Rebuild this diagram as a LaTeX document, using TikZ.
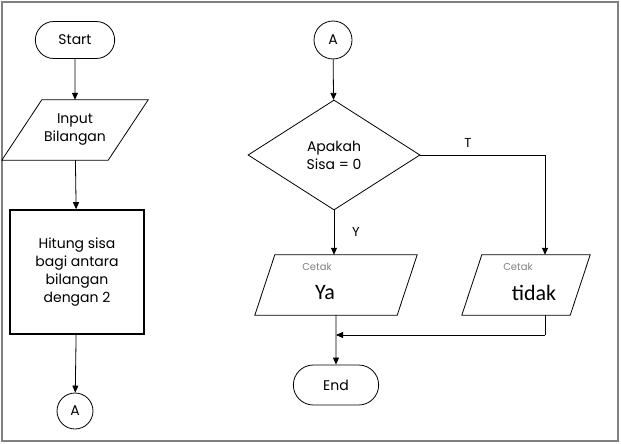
\documentclass[tikz,border=0pt]{standalone}
\usepackage{fontspec}
\setmainfont{Poppins}
\newfontfamily\calfnt{Carlito}
\usetikzlibrary{shapes.geometric,shapes.misc,arrows.meta}
\begin{document}
\begin{tikzpicture}[x=1pt,y=-1pt,
  base/.style={draw,line width=0.8pt,align=center,font=\fontsize{14}{18}\selectfont},
  term/.style={base,rounded rectangle,minimum width=86pt,minimum height=37pt},
  iobox/.style={align=center,font=\fontsize{14}{18}\selectfont,inner sep=0pt,minimum height=60pt},
  conn/.style={base,circle,minimum size=38pt,inner sep=0pt},
  arr/.style={draw,line width=0.8pt,-{Triangle[length=7pt,width=6pt]}},
  ln/.style={draw,line width=0.8pt}]
\useasboundingbox (0,0) rectangle (621,444);
\draw[gray,line width=1.5pt] (2,2) rectangle (618,441);
\node[term] (start) at (75,40) {Start};
\node[iobox,minimum width=86pt] (in) at (75,130) {Input\\Bilangan};
\draw[line width=0.8pt] ([xshift=10pt]in.north west) -- ([xshift=30pt]in.north east) -- ([xshift=-10pt]in.south east) -- ([xshift=-30pt]in.south west) -- cycle;
\node[base,line width=1.6pt,minimum width=134pt,minimum height=124pt] (hit) at (77,272) {Hitung sisa\\bagi antara\\bilangan\\dengan 2};
\node[conn,minimum size=36pt] (a1) at (75,411) {A};
\draw[arr] (start) -- (in);
\draw[arr] (in) -- (hit);
\draw[arr] (hit) -- (a1);
\node[conn] (a2) at (333,40) {A};
\node[base,diamond,aspect=1.6,minimum width=172pt,minimum height=110pt,inner sep=0pt] (dec) at (334,155) {Apakah\\Sisa = 0};
\node[iobox,minimum width=142pt] (ya) at (336,285) {};
\draw[line width=0.8pt] ([xshift=10pt]ya.north west) -- ([xshift=10pt]ya.north east) -- ([xshift=-10pt]ya.south east) -- ([xshift=-10pt]ya.south west) -- cycle;
\node[font=\fontsize{10}{12}\selectfont,text=gray] at (317,267) {Cetak};
\node[font=\calfnt\fontsize{22}{26}\selectfont] at (325,293) {Ya};
\node[iobox,minimum width=108pt] (td) at (526,285) {};
\draw[line width=0.8pt] ([xshift=10pt]td.north west) -- ([xshift=10pt]td.north east) -- ([xshift=-10pt]td.south east) -- ([xshift=-10pt]td.south west) -- cycle;
\node[font=\fontsize{10}{12}\selectfont,text=gray] at (518,267) {Cetak};
\node[font=\calfnt\fontsize{22}{26}\selectfont] at (534,293) {tidak};
\node[term,minimum width=92pt,minimum height=40pt] (end) at (336,385) {End};
\coordinate (c1) at (545,155);
\coordinate (c2) at (545,335);
\coordinate (c3) at (336,335);
\draw[arr] (a2) -- (dec);
\draw[arr] (dec.south) -- (ya.north -| dec.south);
\node[font=\fontsize{13}{16}\selectfont] at (356,232) {Y};
\draw[ln] (dec.east) -- (c1);
\draw[arr] (c1) -- (td.north -| c1);
\node[font=\fontsize{13}{16}\selectfont] at (468,143) {T};
\draw[ln] (td.south -| c1) -- (c2);
\draw[arr] (c2) -- (c3);
\draw[arr] (ya.south) -- (end);
\end{tikzpicture}
\end{document}
